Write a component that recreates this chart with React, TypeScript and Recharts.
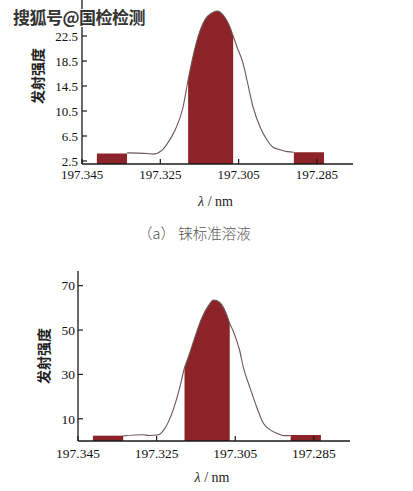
import React from 'react';
import { ComposedChart, Area, Line, XAxis, YAxis } from 'recharts';

// wavelengths (nm) where the emission curve was read, shared by both panels
const WAVE = [
  197.3335, 197.3284, 197.3269, 197.3246, 197.3233, 197.3212, 197.3192, 197.3179,
  197.3167, 197.3154, 197.3136, 197.3118, 197.3105, 197.309, 197.3072, 197.3064,
  197.3054, 197.3039, 197.3029, 197.3013, 197.2995, 197.2978, 197.2962, 197.2944,
  197.2926, 197.2909,
];

// (a) 铼标准溶液
const CURVE_A = [
  3.8, 3.7, 3.6, 4.2, 5.2, 7.5, 11.1, 15.5,
  19.1, 22.3, 25.1, 26.2, 26.5, 25.9, 23.9, 22.5,
  20.7, 18.2, 15.5, 11.1, 7.9, 5.9, 4.7, 4.3,
  4.0, 3.9,
];
const BAR_LEVEL_A = [3.7, 3.9]; // left band, right band

// (b) sample
const CURVE_B = [
  2.3, 2.8, 2.5, 2.8, 4.7, 12, 23.5, 33,
  39, 46, 55, 61, 63.5, 62.5, 57, 53,
  49, 41, 33, 24.3, 15.1, 7.9, 5.1, 3.5,
  2.4, 2.4,
];
const BAR_LEVEL_B = [2.4, 2.7];

// integration windows
const LEFT_BAND = [197.3412, 197.3335];
const PEAK_BAND = [197.3179, 197.3064];
const RIGHT_BAND = [197.2909, 197.2832];

const X_TICKS = [197.345, 197.325, 197.305, 197.285];
const Y_TICKS_A = [2.5, 6.5, 10.5, 14.5, 18.5, 22.5];
const Y_TICKS_B = [10, 30, 50, 70];

const RED = '#8c2329';
const INK = '#1a1a1a';
const SERIF = 'Liberation Serif';
const CJK = 'Noto Sans CJK SC';

type Row = { wl: number; left?: number; peak?: number; right?: number; curve?: number };

const buildRows = (curve: number[], levels: number[]): Row[] => {
  const rows: Row[] = [];
  LEFT_BAND.forEach((wl) => rows.push({ wl, left: levels[0] }));
  WAVE.forEach((wl, i) => {
    const inPeak = wl <= PEAK_BAND[0] && wl >= PEAK_BAND[1];
    rows.push({ wl, curve: curve[i], peak: inPeak ? curve[i] : undefined });
  });
  RIGHT_BAND.forEach((wl) => rows.push({ wl, right: levels[1] }));
  return rows;
};

const rowsA = buildRows(CURVE_A, BAR_LEVEL_A);
const rowsB = buildRows(CURVE_B, BAR_LEVEL_B);

const yTitle = (shiftX: number, shiftY: number) => (props: any) => {
  const vb = props.viewBox || {};
  const x = vb.x + vb.width - shiftX;
  const y = vb.y + vb.height / 2 + shiftY;
  return (
    <text
      x={x}
      y={y}
      transform={`rotate(-90 ${x} ${y})`}
      textAnchor="middle"
      dominantBaseline="central"
      style={{ fontFamily: CJK, fontWeight: 700, fontSize: 14 }}
      fill="#222"
    >
      发射强度
    </text>
  );
};

const xTitle = (shiftY: number) => (props: any) => {
  const vb = props.viewBox || {};
  return (
    <text
      x={vb.x + vb.width / 2 - 2}
      y={vb.y + shiftY}
      textAnchor="middle"
      style={{ fontFamily: SERIF, fontSize: 14 }}
      fill="#222"
    >
      <tspan fontStyle="italic">λ</tspan> / nm
    </text>
  );
};

interface PanelProps {
  rows: Row[];
  yDomain: [number, number];
  yTicks: number[];
  yFmt: (v: number) => string;
  height: number;
  margin: { top: number; right: number; bottom: number; left: number };
  yWidth: number;
  fontSize: number;
  xTickMargin: number;
  yTickMargin: number;
  yTitleShift: [number, number];
  xTitleShift: number;
}

const Panel: React.FC<PanelProps> = (p) => (
  <ComposedChart
    width={413}
    height={p.height}
    data={p.rows}
    margin={p.margin}
    style={{ fontFamily: SERIF }}
  >
    <XAxis
      type="number"
      dataKey="wl"
      domain={[197.2758, 197.345]}
      reversed
      ticks={X_TICKS}
      interval={0}
      tickFormatter={(v: number) => v.toFixed(3)}
      height={44}
      tickSize={-5}
      tickMargin={p.xTickMargin}
      axisLine={{ stroke: INK, strokeWidth: 1.3 }}
      tickLine={{ stroke: INK, strokeWidth: 1.2 }}
      tick={{ fill: '#111', fontSize: p.fontSize, fontFamily: SERIF }}
      allowDataOverflow
      label={{ content: xTitle(p.xTitleShift) } as any}
    />
    <YAxis
      type="number"
      domain={p.yDomain}
      ticks={p.yTicks}
      interval={0}
      tickFormatter={p.yFmt}
      width={p.yWidth}
      tickSize={-5}
      tickMargin={p.yTickMargin}
      axisLine={{ stroke: INK, strokeWidth: 1.3 }}
      tickLine={{ stroke: INK, strokeWidth: 1.2 }}
      tick={{ fill: '#111', fontSize: p.fontSize, fontFamily: SERIF }}
      allowDataOverflow
      label={{ content: yTitle(p.yTitleShift[0], p.yTitleShift[1]) } as any}
    />
    <Area dataKey="left" type="linear" fill={RED} fillOpacity={1} stroke="none" isAnimationActive={false} />
    <Area dataKey="peak" type="monotone" fill={RED} fillOpacity={1} stroke="none" isAnimationActive={false} />
    <Area dataKey="right" type="linear" fill={RED} fillOpacity={1} stroke="none" isAnimationActive={false} />
    <Line
      dataKey="curve"
      type="monotone"
      stroke="#6b5656"
      strokeWidth={1.1}
      dot={false}
      activeDot={false}
      isAnimationActive={false}
    />
  </ComposedChart>
);

const App: React.FC = () => (
  <div style={{ position: 'absolute', left: 0, top: 0, width: 413, height: 491, background: '#fff', overflow: 'hidden' }}>
    <div style={{ position: 'absolute', left: 0, top: 0 }}>
      <Panel
        rows={rowsA}
        yDomain={[2.02, 28.26]}
        yTicks={Y_TICKS_A}
        yFmt={(v) => v.toFixed(1)}
        height={210}
        margin={{ top: 0, right: 60, bottom: 2, left: 0 }}
        yWidth={82}
        fontSize={13}
        xTickMargin={11}
        yTickMargin={9}
        yTitleShift={[45, -6]}
        xTitleShift={42}
      />
    </div>
    <div
      style={{
        position: 'absolute',
        top: 222,
        left: 138,
        fontFamily: CJK,
        fontWeight: 300,
        fontSize: 14.5,
        color: '#555',
        whiteSpace: 'nowrap',
      }}
    >
      （a）&nbsp;铼标准溶液
    </div>
    <div style={{ position: 'absolute', left: 0, top: 245 }}>
      <Panel
        rows={rowsB}
        yDomain={[0, 76.6]}
        yTicks={Y_TICKS_B}
        yFmt={(v) => String(v)}
        height={246}
        margin={{ top: 26, right: 63, bottom: 6, left: 0 }}
        yWidth={78}
        fontSize={13.5}
        xTickMargin={12}
        yTickMargin={8}
        yTitleShift={[35, 0]}
        xTitleShift={41}
      />
    </div>
    <div
      style={{
        position: 'absolute',
        left: 13,
        top: 4,
        fontFamily: CJK,
        fontWeight: 700,
        fontSize: 17,
        color: '#333',
        letterSpacing: -0.5,
        textShadow: '1px 0 #fff, -1px 0 #fff, 0 1px #fff, 0 -1px #fff, 1px 1px #fff, -1px -1px #fff',
      }}
    >
      搜狐号@国检检测
    </div>
  </div>
);

export default App;
